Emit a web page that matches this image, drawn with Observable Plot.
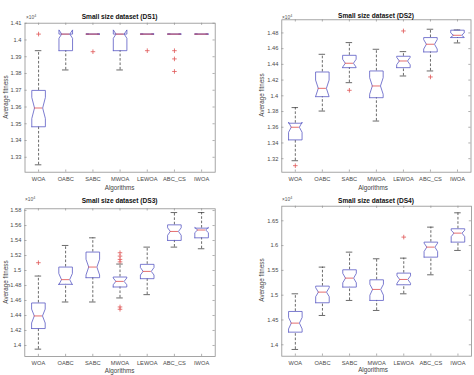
<!DOCTYPE html>
<html>
<head>
<meta charset="utf-8">
<script src="https://cdn.jsdelivr.net/npm/d3@7"></script>
<script src="https://cdn.jsdelivr.net/npm/@observablehq/plot@0.6"></script>
<style>
  html, body { margin: 0; padding: 0; background: #fff; }
  #root { position: relative; width: 474px; height: 375px; overflow: hidden; font-family: "Liberation Sans", Arial, sans-serif; color: #333; }
  .pnl { position: absolute; }
  .txt { position: absolute; transform: translate(-50%, -50%); white-space: nowrap; line-height: 1; }
  .title { font-weight: bold; font-size: 6.6px; color: #111; }
  .lab { font-size: 6.3px; color: #444; }
  .ylab { transform: translate(-50%, -50%) rotate(-90deg); }
  .exp { font-size: 4.8px; color: #555; transform: translate(0, -50%); }
  .exp sup { font-size: 3.6px; vertical-align: 2px; }
</style>
</head>
<body>
<div id="root"></div>
<script>
// ---------- data (values in units of 10^4) ----------
const cats = ["WOA", "OABC", "SABC", "MWOA", "LEWOA", "ABC_CS", "IWOA"];

// DS1
const ds1WhiskerLow  = [1.3255, 1.3821, 1.4035, 1.3821, 1.4035, 1.4035, 1.4035];
const ds1Q1          = [1.3482, 1.3936, 1.4035, 1.3936, 1.4035, 1.4035, 1.4035];
const ds1Median      = [1.3594, 1.4035, 1.4035, 1.4035, 1.4035, 1.4035, 1.4035];
const ds1Q3          = [1.3699, 1.4035, 1.4035, 1.4035, 1.4035, 1.4035, 1.4035];
const ds1WhiskerHigh = [1.3936, 1.4035, 1.4035, 1.4035, 1.4035, 1.4035, 1.4035];
const ds1NotchLow    = [1.3531, 1.4010, 1.4035, 1.4010, 1.4035, 1.4035, 1.4035];
const ds1NotchHigh   = [1.3657, 1.4060, 1.4035, 1.4060, 1.4035, 1.4035, 1.4035];
const ds1Outliers    = [[1.4035], [], [1.3930], [], [1.3936], [1.3936, 1.3887, 1.3812], []];
const ds1Ticks       = [1.33, 1.34, 1.35, 1.36, 1.37, 1.38, 1.39, 1.40, 1.41];

// DS2
const ds2WhiskerLow  = [1.3174, 1.3806, 1.4167, 1.3679, 1.4252, 1.4316, 1.4673];
const ds2Q1          = [1.3439, 1.3989, 1.4358, 1.3976, 1.4358, 1.4558, 1.4741];
const ds2Median      = [1.3600, 1.4095, 1.4414, 1.4125, 1.4443, 1.4656, 1.4770];
const ds2Q3          = [1.3651, 1.4303, 1.4515, 1.4316, 1.4503, 1.4741, 1.4835];
const ds2WhiskerHigh = [1.3850, 1.4528, 1.4677, 1.4592, 1.4562, 1.4847, 1.4838];
const ds2NotchLow    = [1.3536, 1.3990, 1.4365, 1.4020, 1.4395, 1.4595, 1.4745];
const ds2NotchHigh   = [1.3664, 1.4200, 1.4465, 1.4230, 1.4490, 1.4715, 1.4800];
const ds2Outliers    = [[1.3111], [], [1.4070], [], [1.4825], [1.4240], []];
const ds2Ticks       = [1.32, 1.34, 1.36, 1.38, 1.40, 1.42, 1.44, 1.46, 1.48];

// DS3
const ds3WhiskerLow  = [1.3951, 1.4580, 1.4580, 1.4634, 1.4678, 1.5312, 1.5290];
const ds3Q1          = [1.4226, 1.4816, 1.4904, 1.4780, 1.4891, 1.5401, 1.5436];
const ds3Median      = [1.4394, 1.4878, 1.5046, 1.4855, 1.4988, 1.5521, 1.5540];
const ds3Q3          = [1.4567, 1.5046, 1.5246, 1.4913, 1.5082, 1.5609, 1.5565];
const ds3WhiskerHigh = [1.4926, 1.5334, 1.5436, 1.5086, 1.5312, 1.5773, 1.5773];
const ds3NotchLow    = [1.4300, 1.4810, 1.4940, 1.4810, 1.4940, 1.5470, 1.5505];
const ds3NotchHigh   = [1.4485, 1.4960, 1.5150, 1.4900, 1.5040, 1.5570, 1.5575];
const ds3Outliers    = [[1.5104], [], [], [1.5237, 1.5192, 1.5148, 1.5115, 1.4514, 1.4483], [], [], []];
const ds3Ticks       = [1.40, 1.42, 1.44, 1.46, 1.48, 1.50, 1.52, 1.54, 1.56, 1.58];

// DS4
const ds4WhiskerLow  = [1.3906, 1.4591, 1.4894, 1.4692, 1.5028, 1.5411, 1.5902];
const ds4Q1          = [1.4255, 1.4847, 1.5163, 1.4894, 1.5210, 1.5767, 1.6070];
const ds4Median      = [1.4437, 1.5062, 1.5344, 1.5116, 1.5317, 1.5969, 1.6251];
const ds4Q3          = [1.4672, 1.5183, 1.5512, 1.5310, 1.5445, 1.6070, 1.6339];
const ds4WhiskerHigh = [1.5028, 1.5566, 1.5868, 1.5734, 1.5747, 1.6372, 1.6661];
const ds4NotchLow    = [1.4320, 1.4970, 1.5250, 1.5000, 1.5240, 1.5880, 1.6180];
const ds4NotchHigh   = [1.4550, 1.5150, 1.5440, 1.5220, 1.5390, 1.6050, 1.6310];
const ds4Outliers    = [[], [], [], [], [1.6171], [], []];
const ds4Ticks       = [1.40, 1.45, 1.50, 1.55, 1.60, 1.65];

const titles = ["Small size dataset (DS1)", "Small size dataset (DS2)", "Small size dataset (DS3)", "Small size dataset (DS4)"];
const xLabel = "Algorithms";
const yLabel = "Average fitness";

// ---------- drawing ----------
const BOX = "#5a5ac4", MED = "#e05555", WHISK = "#3a3a3a", FRAME = "#8f8f8f";
const bw = 0.25, nw = 0.15, cw = 0.12;

function panel(d, g) {
  const n = cats.length;
  const poly = [], meds = [], wh = [], caps = [], outs = [];
  for (let i = 0; i < n; i++) {
    const x = i + 1, q1 = d.q1[i], q3 = d.q3[i], m = d.med[i], lo = d.nlo[i], hi = d.nhi[i];
    const seq = [[x - bw, q1], [x - bw, lo], [x - nw, m], [x - bw, hi], [x - bw, q3],
                 [x + bw, q3], [x + bw, hi], [x + nw, m], [x + bw, lo], [x + bw, q1], [x - bw, q1]];
    seq.forEach(([px, py]) => poly.push({box: i, px, py}));
    const half = hi > lo ? nw : bw;
    meds.push({x1: x - half, x2: x + half, y: m});
    if (d.whi[i] > q3) wh.push({x, y1: q3, y2: d.whi[i]});
    if (d.wlo[i] < q1) wh.push({x, y1: d.wlo[i], y2: q1});
    if (d.whi[i] > q3) caps.push({x1: x - cw, x2: x + cw, y: d.whi[i]});
    if (d.wlo[i] < q1) caps.push({x1: x - cw, x2: x + cw, y: d.wlo[i]});
    d.out[i].forEach(v => outs.push({x, y: v}));
  }
  const fh = g.h - g.t - g.b, fw = g.w - g.l - g.r;
  const [y0, y1] = g.dom;
  const tyl = (y1 - y0) * 2.2 / fh, txl = 7 * 2.2 / fw;
  const idx = cats.map((c, i) => i + 1);
  return Plot.plot({
    width: g.w, height: g.h,
    marginLeft: g.l, marginRight: g.r, marginTop: g.t, marginBottom: g.b,
    style: {fontFamily: "Liberation Sans, Arial, sans-serif", fontSize: "5.7px", color: "#4a4a4a", background: "transparent", overflow: "visible"},
    x: {domain: [0.5, 7.5], ticks: idx, tickFormat: i => cats[i - 1], tickSize: 0, tickPadding: 4.5, label: null},
    y: {domain: g.dom, ticks: d.ticks, tickFormat: v => String(+v.toFixed(4)), tickSize: 0, tickPadding: 3.5, label: null},
    marks: [
      Plot.ruleY(d.ticks, {y: v => v, x1: 0.5, x2: 0.5 + txl, stroke: FRAME, strokeWidth: 0.7}),
      Plot.ruleY(d.ticks, {y: v => v, x1: 7.5 - txl, x2: 7.5, stroke: FRAME, strokeWidth: 0.7}),
      Plot.ruleX(idx, {x: v => v, y1: y0, y2: y0 + tyl, stroke: FRAME, strokeWidth: 0.7}),
      Plot.ruleX(idx, {x: v => v, y1: y1 - tyl, y2: y1, stroke: FRAME, strokeWidth: 0.7}),
      Plot.ruleX(wh, {x: "x", y1: "y1", y2: "y2", stroke: WHISK, strokeWidth: 0.75, strokeDasharray: "2.6,1.8"}),
      Plot.ruleY(caps, {y: "y", x1: "x1", x2: "x2", stroke: WHISK, strokeWidth: 0.75}),
      Plot.line(poly, {x: "px", y: "py", z: "box", stroke: BOX, strokeWidth: 0.8, curve: "linear"}),
      Plot.ruleY(meds, {y: "y", x1: "x1", x2: "x2", stroke: MED, strokeWidth: 0.85}),
      Plot.dot(outs, {x: "x", y: "y", symbol: "plus", r: 1.6, stroke: MED, strokeWidth: 0.8}),
      Plot.frame({stroke: FRAME, strokeWidth: 0.8})
    ]
  });
}

const datasets = [
  {wlo: ds1WhiskerLow, q1: ds1Q1, med: ds1Median, q3: ds1Q3, whi: ds1WhiskerHigh, nlo: ds1NotchLow, nhi: ds1NotchHigh, out: ds1Outliers, ticks: ds1Ticks},
  {wlo: ds2WhiskerLow, q1: ds2Q1, med: ds2Median, q3: ds2Q3, whi: ds2WhiskerHigh, nlo: ds2NotchLow, nhi: ds2NotchHigh, out: ds2Outliers, ticks: ds2Ticks},
  {wlo: ds3WhiskerLow, q1: ds3Q1, med: ds3Median, q3: ds3Q3, whi: ds3WhiskerHigh, nlo: ds3NotchLow, nhi: ds3NotchHigh, out: ds3Outliers, ticks: ds3Ticks},
  {wlo: ds4WhiskerLow, q1: ds4Q1, med: ds4Median, q3: ds4Q3, whi: ds4WhiskerHigh, nlo: ds4NotchLow, nhi: ds4NotchHigh, out: ds4Outliers, ticks: ds4Ticks}
];

// layout: svg box (left, top, w, h) + margins, y domain, text anchors
const layouts = [
  {left: 0,   top: 0,   w: 237, h: 192, l: 24.5, r: 22.3, t: 22.7, b: 20.3, dom: [1.3211, 1.4100],
   title: [119.6, 17], xl: [119.6, 187.5], yl: [6, 97], ex: [26, 18]},
  {left: 237, top: 0,   w: 237, h: 192, l: 44.3, r: 3.5,  t: 19.3, b: 20.3, dom: [1.3028, 1.4967],
   title: [376, 16], xl: [373, 187.5], yl: [262, 95], ex: [282, 17.5]},
  {left: 0,   top: 187, w: 237, h: 188, l: 24.3, r: 22.3, t: 21.3, b: 19,   dom: [1.3853, 1.5823],
   title: [119.6, 200.7], xl: [119.6, 370.7], yl: [5.5, 282], ex: [25, 200]},
  {left: 237, top: 187, w: 237, h: 188, l: 44.3, r: 3,    t: 18.7, b: 19.3, dom: [1.3770, 1.6794],
   title: [376, 200.7], xl: [373, 370.3], yl: [262, 280], ex: [282, 199.5]}
];

const root = document.getElementById("root");
function addText(cls, html, x, y) {
  const el = document.createElement("div");
  el.className = "txt " + cls;
  el.innerHTML = html;
  el.style.left = x + "px";
  el.style.top = y + "px";
  root.appendChild(el);
}
layouts.forEach((g, k) => {
  const svg = panel(datasets[k], g);
  const wrap = document.createElement("div");
  wrap.className = "pnl";
  wrap.style.left = g.left + "px";
  wrap.style.top = g.top + "px";
  wrap.appendChild(svg);
  root.appendChild(wrap);
  addText("title", titles[k], g.title[0], g.title[1]);
  addText("lab", xLabel, g.xl[0], g.xl[1]);
  addText("lab ylab", yLabel, g.yl[0], g.yl[1]);
  addText("exp", "×10<sup>4</sup>", g.ex[0], g.ex[1]);
});
</script>
</body>
</html>
